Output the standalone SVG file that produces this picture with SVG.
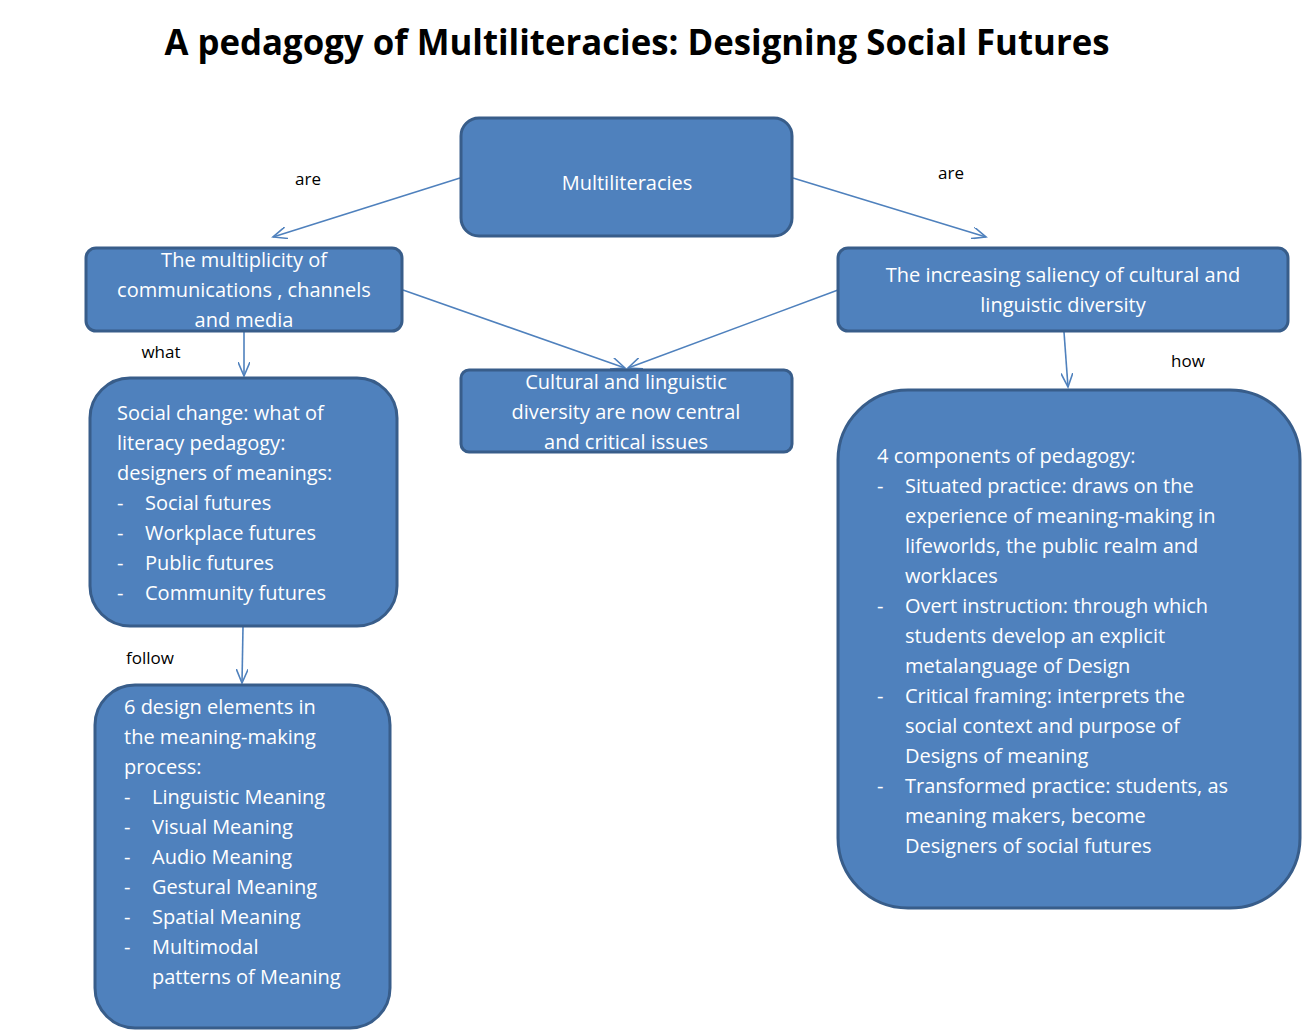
<svg xmlns="http://www.w3.org/2000/svg" width="1302" height="1030" viewBox="0 0 1302 1030">
<style>
.b{fill:#4F81BD;stroke:#385D8A;stroke-width:3}
.t{font-family:"Open Sans","Liberation Sans",sans-serif;font-size:20px;fill:#fff}
.c{text-anchor:middle}
.l{font-family:"Open Sans","Liberation Sans",sans-serif;font-size:17px;fill:#000}
.e{stroke:#4F81BD;stroke-width:1.6;fill:none;marker-end:url(#a)}
</style>
<defs><marker id="a" markerWidth="16" markerHeight="12" refX="14" refY="6" orient="auto" markerUnits="userSpaceOnUse"><path d="M0,0 L14,6 L0,12" fill="none" stroke="#4F81BD" stroke-width="1.6"/></marker></defs>
<rect width="1302" height="1030" fill="#fff"/>
<text x="637" y="55" text-anchor="middle" font-family="Open Sans,Liberation Sans,sans-serif" font-weight="bold" font-size="35" textLength="945" lengthAdjust="spacingAndGlyphs">A pedagogy of Multiliteracies: Designing Social Futures</text>
<g id="connectors">
<line class="e" x1="460" y1="178" x2="273" y2="237"/>
<line class="e" x1="793" y1="178" x2="986" y2="237"/>
<line class="e" x1="403" y1="290" x2="625" y2="368"/>
<line class="e" x1="838" y1="290" x2="628" y2="368"/>
<line class="e" x1="244" y1="332" x2="244" y2="376"/>
<line class="e" x1="243" y1="627" x2="242" y2="683"/>
<line class="e" x1="1064" y1="332" x2="1068" y2="387"/>
<text class="l c" x="308" y="185">are</text>
<text class="l c" x="951" y="179">are</text>
<text class="l c" x="161" y="358">what</text>
<text class="l c" x="1188" y="367">how</text>
<text class="l c" x="150" y="664">follow</text>
</g>
<g id="multi"><rect class="b" x="461" y="118" width="331" height="118" rx="18"/><text class="t c" x="627" y="190" font-size="33">Multiliteracies</text></g>
<g id="multiplicity"><rect class="b" x="86" y="248" width="316" height="83" rx="10"/>
<text class="t c" x="244" y="267">The multiplicity of</text><text class="t c" x="244" y="297">communications , channels</text><text class="t c" x="244" y="327">and  media</text></g>
<g id="saliency"><rect class="b" x="838" y="248" width="450" height="83" rx="10"/>
<text class="t c" x="1063" y="282">The increasing saliency of cultural and</text><text class="t c" x="1063" y="312">linguistic diversity</text></g>
<g id="central"><rect class="b" x="461" y="370" width="331" height="82" rx="8"/>
<text class="t c" x="626" y="389">Cultural and linguistic</text><text class="t c" x="626" y="419">diversity are now central</text><text class="t c" x="626" y="449">and critical issues</text></g>
<g id="social"><rect class="b" x="90" y="378" width="307" height="248" rx="40"/>
<text class="t" x="117" y="420">Social change: what of</text><text class="t" x="117" y="450">literacy pedagogy:</text><text class="t" x="117" y="480">designers of meanings:</text>
<text class="t" x="117" y="510">-</text><text class="t" x="145" y="510">Social futures</text>
<text class="t" x="117" y="540">-</text><text class="t" x="145" y="540">Workplace futures</text>
<text class="t" x="117" y="570">-</text><text class="t" x="145" y="570">Public futures</text>
<text class="t" x="117" y="600">-</text><text class="t" x="145" y="600">Community futures</text></g>
<g id="design"><rect class="b" x="95" y="685" width="295" height="343" rx="40"/>
<text class="t" x="124" y="714">6 design elements in</text><text class="t" x="124" y="744">the meaning-making</text><text class="t" x="124" y="774">process:</text>
<text class="t" x="124" y="804">-</text><text class="t" x="152" y="804">Linguistic Meaning</text>
<text class="t" x="124" y="834">-</text><text class="t" x="152" y="834">Visual Meaning</text>
<text class="t" x="124" y="864">-</text><text class="t" x="152" y="864">Audio Meaning</text>
<text class="t" x="124" y="894">-</text><text class="t" x="152" y="894">Gestural Meaning</text>
<text class="t" x="124" y="924">-</text><text class="t" x="152" y="924">Spatial Meaning</text>
<text class="t" x="124" y="954">-</text><text class="t" x="152" y="954">Multimodal</text>
<text class="t" x="152" y="984">patterns of Meaning</text></g>
<g id="components"><rect class="b" x="838" y="390" width="462" height="518" rx="70"/>
<text class="t" x="877" y="463">4 components of pedagogy:</text>
<text class="t" x="877" y="493">-</text><text class="t" x="905" y="493">Situated practice: draws on the</text>
<text class="t" x="905" y="523">experience of meaning-making in</text>
<text class="t" x="905" y="553">lifeworlds, the public realm and</text>
<text class="t" x="905" y="583">worklaces</text>
<text class="t" x="877" y="613">-</text><text class="t" x="905" y="613">Overt instruction: through which</text>
<text class="t" x="905" y="643">students develop an explicit</text>
<text class="t" x="905" y="673">metalanguage of Design</text>
<text class="t" x="877" y="703">-</text><text class="t" x="905" y="703">Critical framing: interprets the</text>
<text class="t" x="905" y="733">social context and purpose of</text>
<text class="t" x="905" y="763">Designs of meaning</text>
<text class="t" x="877" y="793">-</text><text class="t" x="905" y="793">Transformed practice: students, as</text>
<text class="t" x="905" y="823">meaning makers, become</text>
<text class="t" x="905" y="853">Designers of social futures</text></g>
</svg>
